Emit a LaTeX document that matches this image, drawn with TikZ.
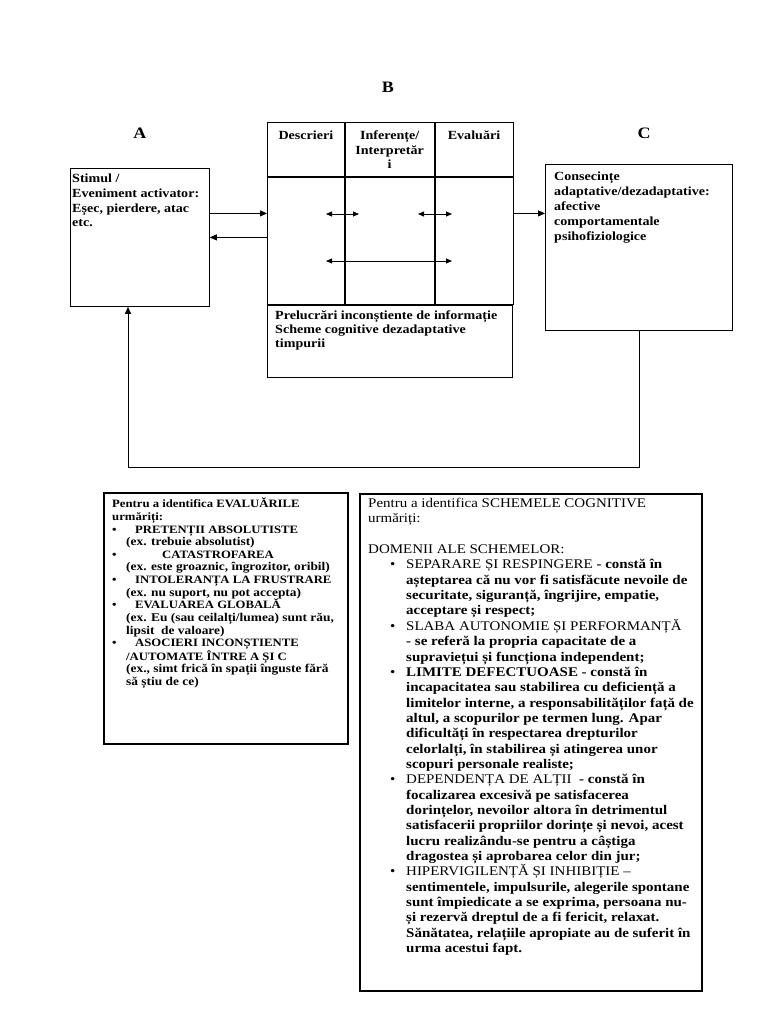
\documentclass[tikz,border=0pt]{standalone}
\usepackage{fontspec}
\setmainfont{Liberation Serif}[FakeStretch=1.13]
\usetikzlibrary{arrows.meta,positioning}

\newcommand{\evitem}{\makebox[23bp][l]{\textbullet}}
\newcommand{\evcont}{\hspace*{14bp}}
\newcommand{\evex}[1]{{\fontsize{11.9}{12.65}\selectfont #1}}
\newcommand{\schitem}{\hspace*{22bp}\makebox[16bp][l]{\textbullet}}
\newcommand{\schcont}{\hspace*{38bp}}

\tikzset{
  box/.style={draw,line width=0.8bp,rectangle,inner sep=0pt,anchor=north west},
  panel/.style={draw,line width=2bp,rectangle,inner sep=0pt,anchor=north west},
  txt/.style={inner sep=0pt,anchor=north west,align=left,font=\bfseries\fontsize{12.5}{14.9}\selectfont},
  hdr/.style={txt,anchor=north,align=center,font=\bfseries\fontsize{12.5}{14.5}\selectfont},
  lbl/.style={inner sep=0pt,font=\bfseries\fontsize{16}{18}\selectfont},
  arr/.style={line width=0.8bp,-{Triangle[length=7bp,width=6bp]}},
  darr/.style={line width=0.8bp,{Triangle[length=6bp,width=5bp]}-{Triangle[length=6bp,width=5bp]}},
}

\begin{document}
\begin{tikzpicture}[x=1bp,y=-1bp]
    \useasboundingbox (0,0) rectangle (768,1024);
    %% Labels
    \node[lbl] (la) at (140,133) {A};
    \node[lbl] (lb) at (388,87) {B};
    \node[lbl] (lc) at (644,133) {C};
    %% A: stimulus
    \node[box,minimum width=139bp,minimum height=138bp] (stim) at (70,168) {};
    \node[txt] (stimtxt) at (72,173.5) {Stimul /\\Eveniment activator:\\Eșec, pierdere, atac\\etc.};
    %% B: grid
    \node[box,minimum width=77bp,minimum height=54bp] (desch) at (267,122) {};
    \node[box,minimum width=89bp,minimum height=54bp] (infh) at (desch.north east) {};
    \node[box,minimum width=78bp,minimum height=54bp] (evalh) at (infh.north east) {};
    \node[box,minimum width=77bp,minimum height=127bp] (descb) at (desch.south west) {};
    \node[box,minimum width=89bp,minimum height=127bp] (infb) at (infh.south west) {};
    \node[box,minimum width=78bp,minimum height=127bp] (evalb) at (evalh.south west) {};
    \node[box,minimum width=245bp,minimum height=72bp] (prel) at (descb.south west) {};
    \node[hdr] (descht) at ([yshift=-9bp]desch.north) {Descrieri};
    \node[hdr] (infht) at ([yshift=-9bp]infh.north) {Inferențe/\\Interpretăr\\i};
    \node[hdr] (evalht) at ([yshift=-9bp]evalh.north) {Evaluări};
    \node[txt,font=\bfseries\fontsize{12.5}{14}\selectfont] (preltxt) at (275,310.5) {Prelucrări inconștiente de informație\\Scheme cognitive dezadaptative\\timpurii};
    %% C: consequences
    \node[box,minimum width=187bp,minimum height=166bp] (cons) at (545,164) {};
    \node[txt,font=\bfseries\fontsize{12.5}{15}\selectfont] (constxt) at (554,172) {Consecințe\\adaptative/dezadaptative:\\afective\\comportamentale\\psihofiziologice};
    %% Connections
    \coordinate (mid) at ([yshift=24bp]stim.east);
    \draw[arr] (mid) -- (mid -| descb.west);
    \draw[arr] (stim.east -| descb.west) -- (stim.east);
    \draw[arr] (mid -| evalb.east) -- (mid -| cons.west);
    \coordinate (i1) at (326,214);
    \coordinate (i2) at (359,214);
    \coordinate (i3) at (418,214);
    \coordinate (i4) at (452,214);
    \coordinate (i5) at (326,261);
    \coordinate (i6) at (452,261);
    \draw[darr] (i1) -- (i2);
    \draw[darr] (i3) -- (i4);
    \draw[darr] (i5) -- (i6);
    %% Feedback loop
    \coordinate (fb) at (128,467);
    \draw[arr] (cons.south) |- (fb) -- (fb |- stim.south);
    %% Bottom panels
    \node[panel,minimum width=244bp,minimum height=251bp] (evalp) at (103,492) {};
    \node[panel,minimum width=342bp,minimum height=497bp] (schp) at (359,493) {};
    \node[txt,font=\bfseries\fontsize{11.3}{12.65}\selectfont] (evaltxt) at (112,498) {%
        Pentru a identifica EVALUĂRILE\\
        urmăriți:\\
        \evitem PRETENȚII ABSOLUTISTE\\
        \evcont\evex{(ex. trebuie absolutist)}\\
        \makebox[50bp][l]{\textbullet}CATASTROFAREA\\
        \evcont\evex{(ex. este groaznic, îngrozitor, oribil)}\\
        \evitem INTOLERANȚA LA FRUSTRARE\\
        \evcont\evex{(ex. nu suport, nu pot accepta)}\\
        \evitem EVALUAREA GLOBALĂ\\
        \evcont\evex{(ex. Eu (sau ceilalți/lumea) sunt rău,}\\
        \evcont\evex{lipsit~ de valoare)}\\
        \evitem ASOCIERI INCONȘTIENTE\\
        \evcont/AUTOMATE ÎNTRE A ȘI C\\
        \evcont\evex{(ex., simt frică în spații înguste fără}\\
        \evcont\evex{să știu de ce)}};
    \node[txt,font=\fontsize{13.3}{15.4}\selectfont] (schtxt) at (368,498) {%
        Pentru a identifica SCHEMELE COGNITIVE\\
        urmăriți:\\[15.4bp]
        DOMENII ALE SCHEMELOR:\\
        \schitem SEPARARE ȘI RESPINGERE \textbf{- constă în}\\
        \schcont\textbf{așteptarea că nu vor fi satisfăcute nevoile de}\\
        \schcont\textbf{securitate, siguranță, îngrijire, empatie,}\\
        \schcont\textbf{acceptare și respect;}\\
        \schitem SLABA AUTONOMIE ȘI PERFORMANȚĂ\\
        \schcont\textbf{- se referă la propria capacitate de a}\\
        \schcont\textbf{supraviețui și funcționa independent;}\\
        \schitem\textbf{LIMITE DEFECTUOASE - constă în}\\
        \schcont\textbf{incapacitatea sau stabilirea cu deficiență a}\\
        \schcont\textbf{limitelor interne, a responsabilităților față de}\\
        \schcont\textbf{altul, a scopurilor pe termen lung. Apar}\\
        \schcont\textbf{dificultăți în respectarea drepturilor}\\
        \schcont\textbf{celorlalți, în stabilirea și atingerea unor}\\
        \schcont\textbf{scopuri personale realiste;}\\
        \schitem DEPENDENȚA DE ALȚII~ \textbf{- constă în}\\
        \schcont\textbf{focalizarea excesivă pe satisfacerea}\\
        \schcont\textbf{dorințelor, nevoilor altora în detrimentul}\\
        \schcont\textbf{satisfacerii propriilor dorințe și nevoi, acest}\\
        \schcont\textbf{lucru realizându-se pentru a câștiga}\\
        \schcont\textbf{dragostea și aprobarea celor din jur;}\\
        \schitem HIPERVIGILENȚĂ ȘI INHIBIȚIE –\\
        \schcont\textbf{sentimentele, impulsurile, alegerile spontane}\\
        \schcont\textbf{sunt împiedicate a se exprima, persoana nu-}\\
        \schcont\textbf{și rezervă dreptul de a fi fericit, relaxat.}\\
        \schcont\textbf{Sănătatea, relațiile apropiate au de suferit în}\\
        \schcont\textbf{urma acestui fapt.}};
\end{tikzpicture}
\end{document}
